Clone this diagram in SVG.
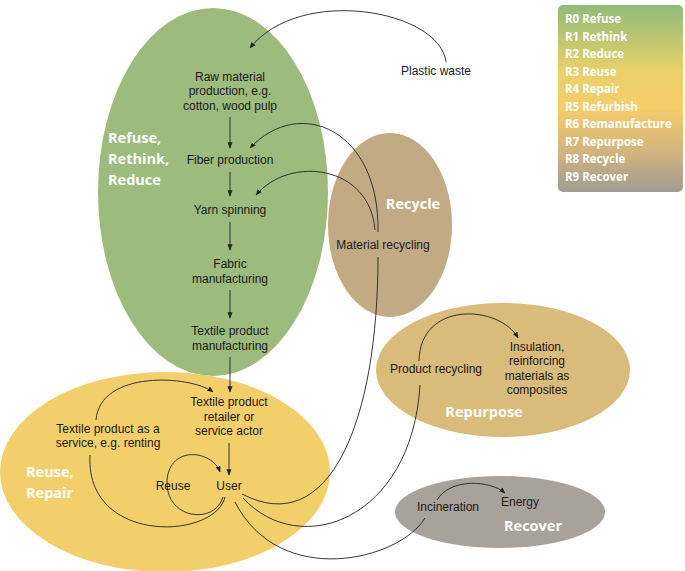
<svg xmlns="http://www.w3.org/2000/svg" width="685" height="571" viewBox="0 0 685 571">
<style>
.t{font-family:"Liberation Sans",Arial,sans-serif;font-size:12px;fill:#1a1a1a;text-anchor:middle}
.b{font-family:"Open Sans","Liberation Sans",sans-serif;font-weight:bold;font-size:14.5px;fill:#fff}
.lg{font-family:"Open Sans","Liberation Sans",sans-serif;font-weight:bold;font-size:11.5px;fill:#fff}
.c{fill:none;stroke:#222;stroke-width:0.9;marker-end:url(#a)}
.n{fill:none;stroke:#222;stroke-width:0.9}
</style>
<defs>
<marker id="a" viewBox="0 0 10 10" refX="9" refY="5" markerWidth="7" markerHeight="7" orient="auto"><path d="M0,1 L10,5 L0,9 z" fill="#222"/></marker>
<linearGradient id="g" x1="0" y1="0" x2="0" y2="1">
<stop offset="0" stop-color="#8fbc7a"/><stop offset="0.35" stop-color="#e8d06a"/><stop offset="0.55" stop-color="#f6cd6a"/><stop offset="0.8" stop-color="#cfb27f"/><stop offset="1" stop-color="#a09c95"/>
</linearGradient>
</defs>
<rect width="685" height="571" fill="#fff"/>
<g id="refuse"><ellipse cx="213" cy="192" rx="115" ry="184" fill="#9dbb7d"/><text class="b" x="108" y="143">Refuse,</text><text class="b" x="108" y="164">Rethink,</text><text class="b" x="108" y="185">Reduce</text></g>
<g id="recycle"><ellipse cx="390" cy="225" rx="62" ry="92" fill="#c2ab84"/><text class="b" x="413" y="209" text-anchor="middle">Recycle</text></g>
<g id="reuse"><ellipse cx="165" cy="472" rx="165" ry="100" fill="#f3cf6b"/><text class="b" x="26" y="477">Reuse,</text><text class="b" x="26" y="498">Repair</text></g>
<g id="repurpose"><ellipse cx="503" cy="370" rx="127" ry="67" fill="#d9bb7b"/><text class="b" x="484" y="417" text-anchor="middle">Repurpose</text></g>
<g id="recover"><ellipse cx="500" cy="512" rx="105" ry="36" fill="#a8a29a"/><text class="b" x="533" y="531" text-anchor="middle">Recover</text></g>
<g id="legend"><rect x="558" y="5" width="125" height="187" rx="5" fill="url(#g)"/>
<text class="lg" x="565" y="23">R0 Refuse</text><text class="lg" x="565" y="41">R1 Rethink</text><text class="lg" x="565" y="58">R2 Reduce</text><text class="lg" x="565" y="76">R3 Reuse</text><text class="lg" x="565" y="93">R4 Repair</text><text class="lg" x="565" y="111">R5 Refurbish</text><text class="lg" x="565" y="128">R6 Remanufacture</text><text class="lg" x="565" y="146">R7 Repurpose</text><text class="lg" x="565" y="163">R8 Recycle</text><text class="lg" x="565" y="181">R9 Recover</text></g>
<g id="labels">
<text class="t" x="436" y="75">Plastic waste</text>
<text class="t" x="230" y="81">Raw material</text><text class="t" x="230" y="95">production, e.g.</text><text class="t" x="230" y="110">cotton, wood pulp</text>
<text class="t" x="230" y="164">Fiber production</text>
<text class="t" x="230" y="214">Yarn spinning</text>
<text class="t" x="230" y="268">Fabric</text><text class="t" x="230" y="283">manufacturing</text>
<text class="t" x="230" y="335">Textile product</text><text class="t" x="230" y="350">manufacturing</text>
<text class="t" x="229" y="406">Textile product</text><text class="t" x="229" y="421">retailer or</text><text class="t" x="229" y="435">service actor</text>
<text class="t" x="108" y="433">Textile product as a</text><text class="t" x="108" y="447">service, e.g. renting</text>
<text class="t" x="173" y="490">Reuse</text><text class="t" x="229" y="490">User</text>
<text class="t" x="383" y="249">Material recycling</text>
<text class="t" x="436" y="373">Product recycling</text>
<text class="t" x="537" y="351">Insulation,</text><text class="t" x="537" y="365">reinforcing</text><text class="t" x="537" y="380">materials as</text><text class="t" x="537" y="394">composites</text>
<text class="t" x="448" y="511">Incineration</text><text class="t" x="520" y="506">Energy</text>
</g>
<g id="connectors">
<path class="c" d="M446,62 C440,10 300,-15 250,48"/>
<path class="c" d="M230,117 V148"/><path class="c" d="M230,172 V196"/><path class="c" d="M230,222 V250"/><path class="c" d="M230,290 V318"/><path class="c" d="M230,357 V392"/>
<path class="c" d="M378,232 C380,130 300,95 250,148"/>
<path class="c" d="M375,230 C370,165 290,155 256,195"/>
<path class="n" d="M378,257 C378,420 330,540 242,494"/>
<path class="n" d="M420,385 C412,520 300,560 243,498"/>
<path class="n" d="M425,518 C400,560 280,590 235,502"/>
<path class="c" d="M419,361 C420,300 500,305 518,338"/>
<path class="c" d="M437,500 C450,478 490,480 505,493"/>
<path class="c" d="M229,443 V475"/>
<path class="c" d="M96,420 C100,370 190,375 213,392"/>
<path class="n" d="M90,455 C85,545 215,540 225,497"/>
<path class="c" d="M223,497 C215,525 165,520 167,480 C170,445 212,450 220,472"/>
</g>
</svg>
